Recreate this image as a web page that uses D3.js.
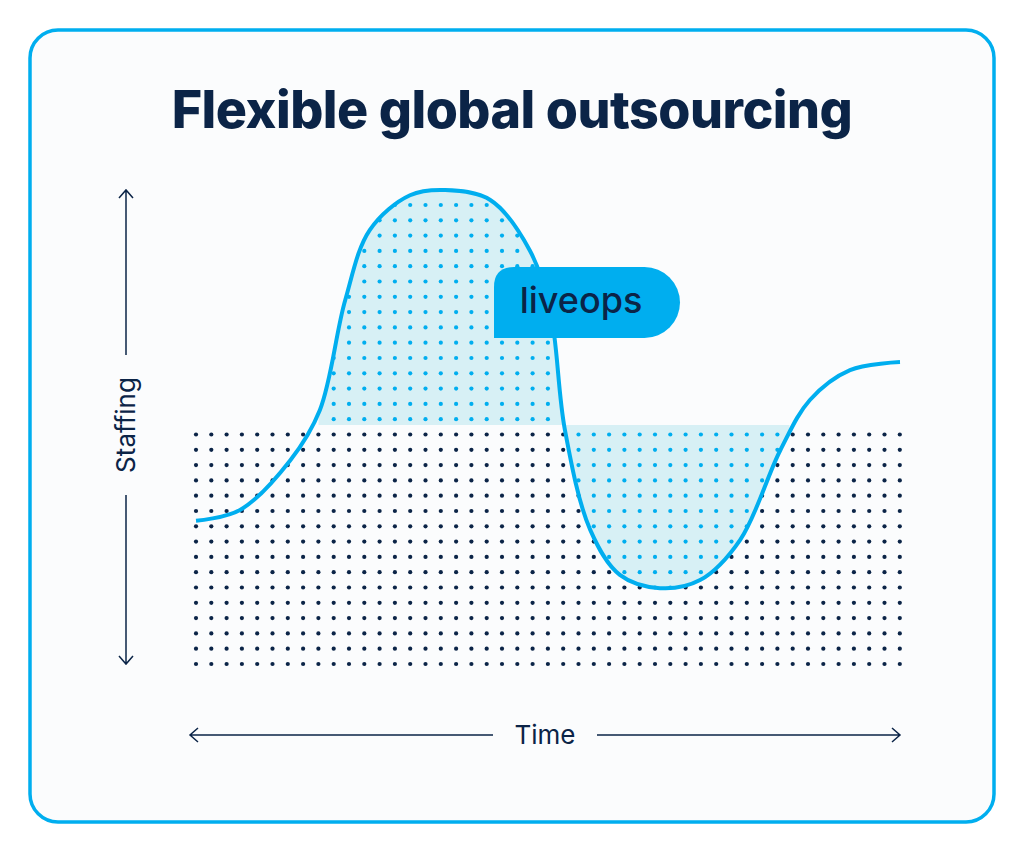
<!DOCTYPE html>
<html><head><meta charset="utf-8">
<script src="https://cdn.jsdelivr.net/npm/d3@7"></script>
<style>body{margin:0;background:#fff}svg{display:block}</style>
</head><body>
<svg id="c" width="1024" height="854"></svg>
<script>
const title = "Flexible global outsourcing";
const xLabel = "Time", yLabel = "Staffing", brand = "liveops";
const timeX   = [0,6.25,13.4,17.6,21.2,24.7,30.4,35.4,41.8,47.4,50.3,52.4,56,60.2,65.9,71.6,77.3,83,87.2,92.9,100];
const staffY  = [30.2,32.5,43,53.6,76.8,91.6,98.9,100,97.9,87.3,74.7,49.4,28.3,18.8,16,17.7,26.2,45.1,55.7,62,63.7];
const baseline = 50.4;
const fillRange = [17.4, 84.3];

const navy="#0b2447", blue="#00aeef", light="#d7f0f5";
const svg=d3.select("#c");
const x=d3.scaleLinear().domain([0,100]).range([196,900]);
const y=d3.scaleLinear().domain([0,100]).range([664,190]);
const pts=timeX.map((t,i)=>[t,staffY[i]]);
const cv=d3.curveCatmullRom.alpha(0.5);

svg.append("rect").attr("x",30).attr("y",30).attr("width",964).attr("height",792).attr("rx",28)
  .attr("fill","#fbfcfd").attr("stroke",blue).attr("stroke-width",3.5);
svg.append("text").attr("x",512).attr("y",128).attr("text-anchor","middle")
  .attr("font-family","Inter, Lato, sans-serif").attr("font-weight",800).attr("font-size",52)
  .attr("fill",navy).attr("letter-spacing",-0.5).text(title);

const defs=svg.append("defs");
defs.append("clipPath").attr("id","fc").append("rect")
  .attr("x",x(fillRange[0])).attr("y",0).attr("width",x(fillRange[1])-x(fillRange[0])).attr("height",854);
const area=d3.area().x(d=>x(d[0])).y0(y(baseline)).y1(d=>y(d[1])).curve(cv);
const ap=svg.append("path").attr("d",area(pts)).attr("fill",light).attr("clip-path","url(#fc)");

const sp=15.3, x0=196, ybot=664;
const node=ap.node();
const dots=[];
for(let r=0;r<31;r++){const yy=ybot-r*sp; for(let c=0;c<47;c++){const xx=x0+c*sp;
  const inX=xx>=x(fillRange[0])&&xx<=x(fillRange[1]);
  const inF=inX&&node.isPointInFill(new DOMPoint(xx,yy));
  if(inF) dots.push([xx,yy,blue]); else if(yy>=y(baseline)+5) dots.push([xx,yy,navy]);}}
svg.append("g").selectAll("circle").data(dots).join("circle")
  .attr("cx",d=>d[0]).attr("cy",d=>d[1]).attr("r",2.1).attr("fill",d=>d[2]);

const line=d3.line().x(d=>x(d[0])).y(d=>y(d[1])).curve(cv);
svg.append("path").attr("d",line(pts)).attr("fill","none").attr("stroke",blue).attr("stroke-width",4);

const bx=494,by=267,bw=186,bh=71,br=35.5,tl=20;
svg.append("path").attr("fill",blue).attr("d",
 `M${bx},${by+bh} L${bx},${by+tl} Q${bx},${by} ${bx+tl},${by} L${bx+bw-br},${by} A${br},${br} 0 0 1 ${bx+bw-br},${by+bh} Z`);
svg.append("text").attr("x",bx+bw/2-6).attr("y",by+46).attr("text-anchor","middle")
  .attr("font-family","Inter, sans-serif").attr("font-weight",500).attr("font-size",36).attr("fill",navy).text(brand);

const ax=svg.append("g").attr("stroke",navy).attr("stroke-width",1.5).attr("fill","none");
const vx=126, yT=y.range()[1], yB=y.range()[0];
ax.append("path").attr("d",`M${vx},${yT} V355 M${vx},495 V${yB} M${vx-7},${yT+8} L${vx},${yT} L${vx+7},${yT+8} M${vx-7},${yB-8} L${vx},${yB} L${vx+7},${yB-8}`);
const hy=735, xL=190, xR=900;
ax.append("path").attr("d",`M${xL},${hy} H493 M597,${hy} H${xR} M${xL+8},${hy-7} L${xL},${hy} L${xL+8},${hy+7} M${xR-8},${hy-7} L${xR},${hy} L${xR-8},${hy+7}`);
svg.append("text").attr("x",545).attr("y",744).attr("text-anchor","middle").attr("font-family","Inter, sans-serif")
  .attr("font-size",26).attr("fill",navy).text(xLabel);
svg.append("text").attr("transform",`translate(${vx+9},425) rotate(-90)`).attr("text-anchor","middle")
  .attr("font-family","Inter, sans-serif").attr("font-size",26).attr("fill",navy).text(yLabel);
</script></body></html>
